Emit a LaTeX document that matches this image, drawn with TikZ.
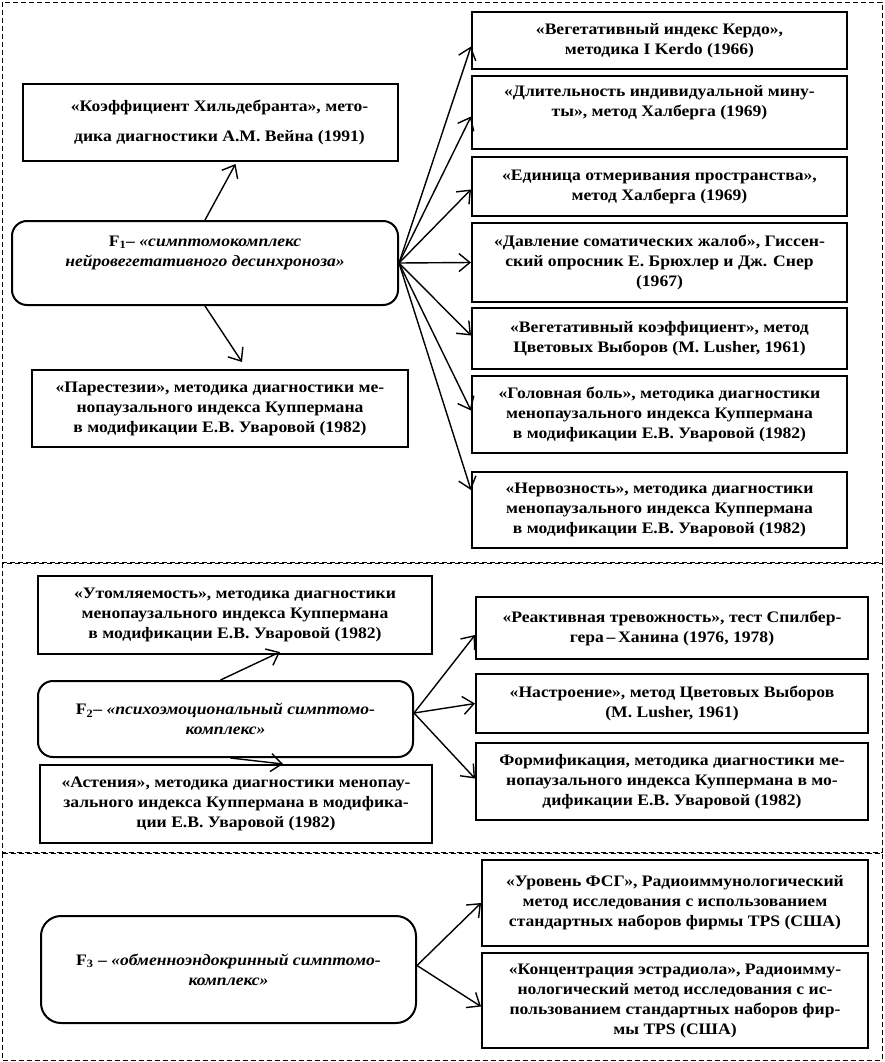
\documentclass[tikz,border=0pt]{standalone}
\usepackage{fontspec}
\setmainfont{Liberation Serif}[FakeStretch=1.1]
\usetikzlibrary{arrows.meta,calc}
\begin{document}
\begin{tikzpicture}[x=1pt,y=-1pt,
  box/.style={draw,line width=2pt,inner sep=0pt,align=center,fill=white,
    font=\bfseries\fontsize{16}{20}\selectfont},
  rbox/.style={box,rounded corners=15pt},
  arr/.style={line width=1.4pt,-{Straight Barb[length=11pt,width=18pt,line width=1.4pt]}},
  sect/.style={draw,line width=0.9pt,dash pattern=on 5pt off 3pt}]
\useasboundingbox (0,0) rectangle (884,1062);
% sections
\draw[sect] (2,2) rectangle (882,562);
\draw[sect] (2,563) rectangle (882,852);
\draw[sect] (2,853) rectangle (882,1060);

% section 1
\node[box,minimum width=375,minimum height=77] (hild) at (210.5,122.5)
  {\hspace*{18pt}«Коэффициент Хильдебранта», мето-\\[10pt]\hspace*{18pt}дика диагностики А.М. Вейна (1991)};
\node[rbox,minimum width=386,minimum height=84] (f1) at (205,263)
  {F\textsubscript{1}– \textit{«симптомокомплекс}\\\textit{нейровегетативного десинхроноза»}\\[4pt]};
\node[box,minimum width=376,minimum height=77] (par) at (220,408.5)
  {«Парестезии», методика диагностики ме-\\нопаузального индекса Куппермана\\в модификации Е.В. Уваровой (1982)};

\node[box,minimum width=375,minimum height=57] (kerdo) at (659.5,40.5)
  {«Вегетативный индекс Кердо»,\\методика I Kerdo (1966)};
\node[box,minimum width=375,minimum height=73] (dlit) at (659.5,112.5)
  {«Длительность индивидуальной мину-\\ты», метод Халберга (1969)\\[4pt]};
\node[box,minimum width=375,minimum height=59] (edin) at (659.5,186.5)
  {«Единица отмеривания пространства»,\\метод Халберга (1969)};
\node[box,minimum width=375,minimum height=79] (davl) at (659.5,262.5)
  {«Давление соматических жалоб», Гиссен-\\ский опросник Е. Брюхлер и Дж. Снер\\(1967)};
\node[box,minimum width=375,minimum height=61] (vk) at (659.5,338.5)
  {«Вегетативный коэффициент», метод\\Цветовых Выборов (M. Lusher, 1961)};
\node[box,minimum width=375,minimum height=77] (gol) at (659.5,414.5)
  {«Головная боль», методика диагностики\\менопаузального индекса Куппермана\\в модификации Е.В. Уваровой (1982)};
\node[box,minimum width=375,minimum height=76] (nerv) at (659.5,510)
  {«Нервозность», методика диагностики\\менопаузального индекса Куппермана\\в модификации Е.В. Уваровой (1982)};

\draw[arr] (f1.north) -- ([xshift=25pt,yshift=-2pt]hild.south);
\draw[arr] (f1.south) -- ([xshift=22pt,yshift=7pt]par.north);
\draw[arr] (f1.east) -- ([yshift=-6pt]kerdo.west);
\draw[arr] (f1.east) -- ([yshift=-4pt]dlit.west);
\draw[arr] (f1.east) -- ([yshift=-3pt]edin.west);
\draw[arr] (f1.east) -- (davl.west);
\draw[arr] (f1.east) -- ([yshift=3pt]vk.west);
\draw[arr] (f1.east) -- ([yshift=4pt]gol.west);
\draw[arr] (f1.east) -- ([yshift=20pt]nerv.west);

% section 2
\node[box,minimum width=394,minimum height=78] (ut) at (235,615)
  {«Утомляемость», методика диагностики\\менопаузального индекса Куппермана\\в модификации Е.В. Уваровой (1982)};
\node[rbox,minimum width=375,minimum height=76] (f2) at (225.5,719)
  {F\textsubscript{2}– \textit{«психоэмоциональный симптомо-}\\\textit{комплекс»}};
\node[box,minimum width=392,minimum height=78] (ast) at (236,804)
  {«Астения», методика диагностики менопау-\\зального индекса Куппермана в модифика-\\ции Е.В. Уваровой (1982)};
\node[box,minimum width=392,minimum height=62] (react) at (672,628)
  {«Реактивная тревожность», тест Спилбер-\\гера\,–\,Ханина (1976, 1978)};
\node[box,minimum width=392,minimum height=59] (nastr) at (672,703.5)
  {«Настроение», метод Цветовых Выборов\\(M. Lusher, 1961)};
\node[box,minimum width=392,minimum height=77] (form) at (672,781.5)
  {Формификация, методика диагностики ме-\\нопаузального индекса Куппермана в мо-\\дификации Е.В. Уваровой (1982)};

\draw[arr] ([xshift=-5pt]f2.north) -- ([xshift=45pt,yshift=3pt]ut.south);
\draw[arr] ([xshift=5pt]f2.south) -- ([xshift=47pt]ast.north);
\draw[arr] ([yshift=6pt]f2.east) -- ([yshift=-7pt]react.west);
\draw[arr] ([yshift=6pt]f2.east) -- (nastr.west);
\draw[arr] ([yshift=6pt]f2.east) -- ([yshift=3pt]form.west);

% section 3
\node[rbox,rounded corners=20pt,minimum width=375,minimum height=107] (f3) at (228.5,969.5)
  {F\textsubscript{3} – \textit{«обменноэндокринный симптомо-}\\\textit{комплекс»}};
\node[box,minimum width=386,minimum height=86] (fsg) at (675,903)
  {«Уровень ФСГ», Радиоиммунологический\\метод исследования с использованием\\стандартных наборов фирмы TPS (США)};
\node[box,minimum width=386,minimum height=95] (konc) at (675,1000.5)
  {«Концентрация эстрадиола», Радиоимму-\\нологический метод исследования с ис-\\пользованием стандартных наборов фир-\\мы TPS (США)};

\draw[arr] ([yshift=4pt]f3.east) -- (fsg.west);
\draw[arr] ([yshift=4pt]f3.east) -- ([yshift=-6pt]konc.west);
\end{tikzpicture}
\end{document}
